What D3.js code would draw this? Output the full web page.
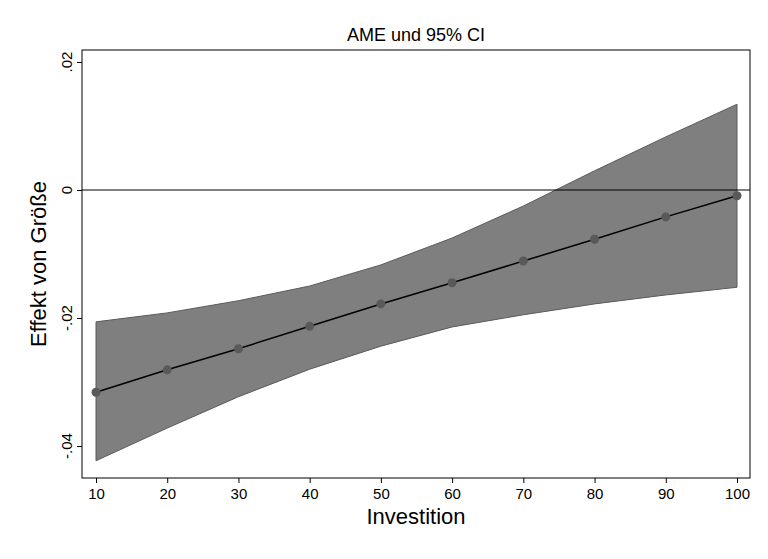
<!DOCTYPE html>
<html><head><meta charset="utf-8">
<script src="https://cdn.jsdelivr.net/npm/d3@7"></script>
<style>body{margin:0;background:#fff}text{font-family:Arial,"Liberation Sans",sans-serif}</style>
</head><body><svg id="c" width="768" height="559"></svg>
<script>
// Data
const investition = [10, 20, 30, 40, 50, 60, 70, 80, 90, 100];
const ame = [-0.0316, -0.0281, -0.0248, -0.0213, -0.0178, -0.0145, -0.0111, -0.0077, -0.0042, -0.0009];
const upper = [-0.0206, -0.0192, -0.0173, -0.0150, -0.0117, -0.0075, -0.0025, 0.0030, 0.0083, 0.0134];
const lower = [-0.0423, -0.0372, -0.0323, -0.0280, -0.0244, -0.0214, -0.0195, -0.0178, -0.0164, -0.0152];
const xTicks = [10, 20, 30, 40, 50, 60, 70, 80, 90, 100];
const yTicks = [-0.04, -0.02, 0, 0.02];
const yLabels = ["-.04", "-.02", "0", ".02"];

const svg = d3.select("#c");
const L = 82, R = 750, T = 50, B = 478;
const x = d3.scaleLinear().domain([10, 100]).range([96, 737]);
const y = d3.scaleLinear().domain([-0.04, 0.02]).range([446, 62]);

svg.append("rect").attr("x", L).attr("y", T).attr("width", R - L).attr("height", B - T)
    .attr("fill", "none").attr("stroke", "#000").attr("stroke-width", 1);

const pts = investition.map((v, i) => ({x: v, m: ame[i], u: upper[i], l: lower[i]}));

svg.append("path").datum(pts)
    .attr("d", d3.area().x(d => x(d.x)).y0(d => y(d.l)).y1(d => y(d.u)))
    .attr("fill", "#7f7f7f").attr("stroke", "#5a5a5a").attr("stroke-width", 1);

svg.append("line").attr("x1", L).attr("x2", R).attr("y1", y(0)).attr("y2", y(0))
    .attr("stroke", "#000").attr("stroke-width", 1);

svg.append("path").datum(pts)
    .attr("d", d3.line().x(d => x(d.x)).y(d => y(d.m)))
    .attr("fill", "none").attr("stroke", "#000").attr("stroke-width", 1.5);

svg.selectAll(".pt").data(pts).enter().append("circle")
    .attr("cx", d => x(d.x)).attr("cy", d => y(d.m)).attr("r", 4.5).attr("fill", "#595959");

// x axis
const xa = svg.append("g").attr("transform", `translate(0,${B})`);
xa.call(d3.axisBottom(x).tickValues(xTicks).tickSize(5).tickFormat(d3.format("d")));
xa.select(".domain").remove();
xa.selectAll("text").attr("font-size", 15).attr("fill", "#000").attr("dy", "0.85em");

// y axis: ticks from the axis, rotated labels drawn separately
const ya = svg.append("g").attr("transform", `translate(${L},0)`);
ya.call(d3.axisLeft(y).tickValues(yTicks).tickSize(5).tickFormat(""));
ya.select(".domain").remove();
svg.selectAll(".ylab").data(yTicks).enter().append("text")
    .attr("transform", d => `translate(72,${y(d)}) rotate(-90)`)
    .attr("text-anchor", "middle").attr("font-size", 15)
    .text((d, i) => yLabels[i]);

svg.append("text").attr("x", (L + R) / 2).attr("y", 524).attr("text-anchor", "middle")
    .attr("font-size", 22).text("Investition");
svg.append("text").attr("transform", `translate(46,${(T + B) / 2}) rotate(-90)`)
    .attr("text-anchor", "middle").attr("font-size", 22).text("Effekt von Größe");
svg.append("text").attr("x", (L + R) / 2).attr("y", 41).attr("text-anchor", "middle")
    .attr("font-size", 18).text("AME und 95% CI");
</script></body></html>
